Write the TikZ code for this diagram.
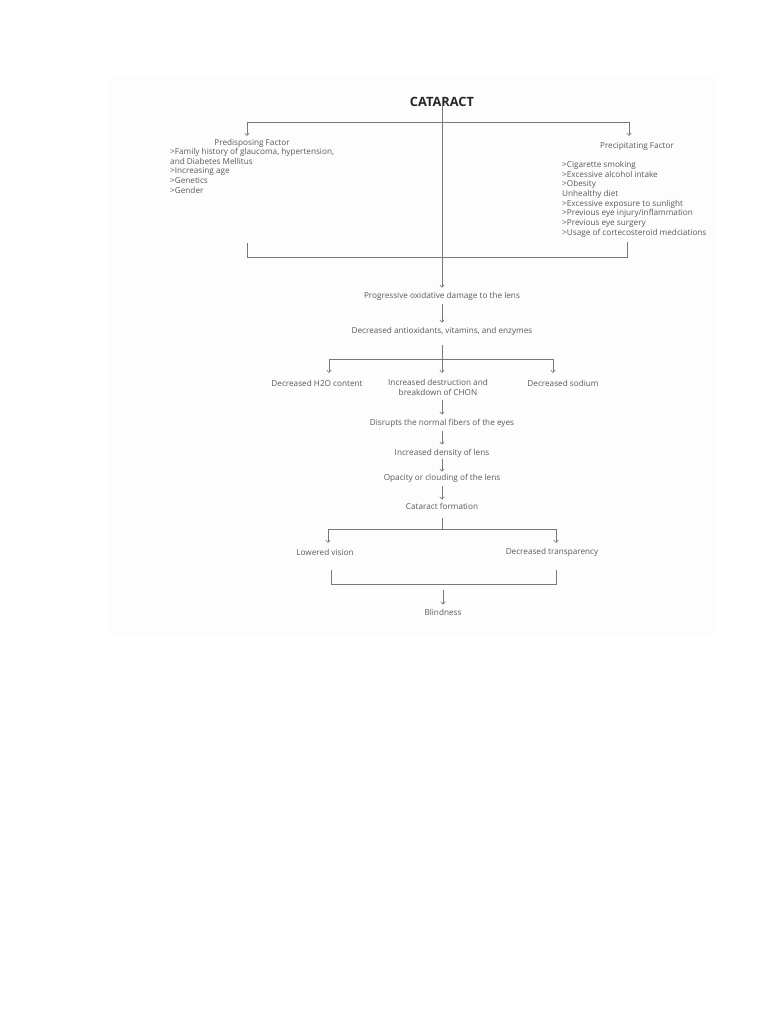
\documentclass[tikz,border=0pt]{standalone}
\definecolor{inkgray}{RGB}{90, 90, 90}
\definecolor{linegray}{RGB}{120, 120, 120}
\definecolor{sheet}{RGB}{253, 253, 253}
\usepackage{fontspec}
\setmainfont{Open Sans}
\usepackage{tikz}
\usetikzlibrary{arrows.meta, positioning}

\tikzset{
  label text/.style={text=inkgray, font=\fontsize{8.2}{9.7}\selectfont, inner xsep=1pt, inner ysep=4pt},
  list text/.style={label text, align=left, inner sep=0pt, anchor=north west},
  link/.style={draw=linegray, line width=0.6pt},
  flow/.style={link, -{Straight Barb[length=2.5pt, width=4.5pt]}}
}

\begin{document}
\begin{tikzpicture}[x=1pt, y=-1pt]
  \useasboundingbox (0,0) rectangle (768,1024);
  \fill[sheet] (110,75) rectangle (715,636);

  % Title and the two factor groups
  \node[text=black!85, font=\fontsize{12.8}{14}\selectfont\bfseries, inner sep=1pt] (cataract) at (442,102) {CATARACT};

  \node[label text] (predis) at (252,143) {Predisposing Factor};
  \node[list text] (predislist) at (170,148) {
    >Family history of glaucoma, hypertension,\\
    and Diabetes Mellitus\\
    >Increasing age\\
    >Genetics\\
    >Gender
  };

  \node[label text] (precip) at (637,146) {Precipitating Factor};
  \node[list text] (preciplist) at (562,161) {
    >Cigarette smoking\\
    >Excessive alcohol intake\\
    >Obesity\\
    Unhealthy diet\\
    >Excessive exposure to sunlight\\
    >Previous eye injury/inflammation\\
    >Previous eye surgery\\
    >Usage of cortecosteroid medciations
  };

  % Main chain
  \node[label text] (oxid) at (442,296) {Progressive oxidative damage to the lens};
  \node[label text] (antiox) at (442,331) {Decreased antioxidants, vitamins, and enzymes};

  \node[label text] (water) at (317,383) {Decreased H2O content};
  \node[label text, align=center] (chon) at (438,387.5) {Increased destruction and\\breakdown of CHON};
  \node[label text] (sodium) at (563,383) {Decreased sodium};

  \node[label text] (fibers) at (442,423) {Disrupts the normal fibers of the eyes};
  \node[label text] (density) at (442,453) {Increased density of lens};
  \node[label text] (opacity) at (442,478) {Opacity or clouding of the lens};
  \node[label text] (formation) at (442,506) {Cataract formation};

  \node[label text] (vision) at (325,552) {Lowered vision};
  \node[label text] (transp) at (552,552) {Decreased transparency};
  \node[label text] (blind) at (443,612) {Blindness};

  % Junction points
  \coordinate (topL) at (247,122);
  \coordinate (topR) at (629,122);
  \coordinate (botL) at (247,243);
  \coordinate (botLb) at (247,257);
  \coordinate (botRb) at (627,257);
  \coordinate (botR) at (627,242);
  \coordinate (splitA) at (442,359);
  \coordinate (splitAL) at (329,359);
  \coordinate (splitAR) at (553,359);
  \coordinate (splitB) at (442,529);
  \coordinate (splitBL) at (328,529);
  \coordinate (splitBR) at (556,529);
  \coordinate (joinL) at (331,570);
  \coordinate (joinLb) at (331,584);
  \coordinate (joinRb) at (556,584);
  \coordinate (joinR) at (556,570);
  \coordinate (joinM) at (443,590);

  % Connectors
  \draw[flow] (cataract.center) -- (oxid.north);
  \draw[link] (topL) -- (topR);
  \draw[flow] (topL) -- ++(0,14);
  \draw[flow] (topR) -- ++(0,14);
  \draw[link] (botL) -- (botLb) -- (botRb) -- (botR);

  \draw[flow] (oxid.south) -- (antiox.north);
  \draw[link] ([yshift=-6pt]antiox.south) -- (splitA);
  \draw[link] (splitAL) -- (splitAR);
  \draw[flow] (splitAL) -- ++(0,14);
  \draw[flow] (splitA) -- ++(0,14);
  \draw[flow] (splitAR) -- ++(0,14);

  \draw[flow] (fibers.north |- chon.south) -- (fibers.north);
  \draw[flow] (fibers.south) -- (density.north);
  \draw[flow] ([yshift=2pt]density.south) -- ([yshift=-2pt]opacity.north);
  \draw[flow] (opacity.south) -- ([yshift=-1pt]formation.north);

  \draw[link] ([yshift=-5pt]formation.south) -- (splitB);
  \draw[link] (splitBL) -- (splitBR);
  \draw[flow] (splitBL) -- ++(0,14);
  \draw[flow] (splitBR) -- ++(0,14);

  \draw[link] (joinL) -- (joinLb) -- (joinRb) -- (joinR);
  \draw[flow] (joinM) -- (blind.north);
\end{tikzpicture}
\end{document}
